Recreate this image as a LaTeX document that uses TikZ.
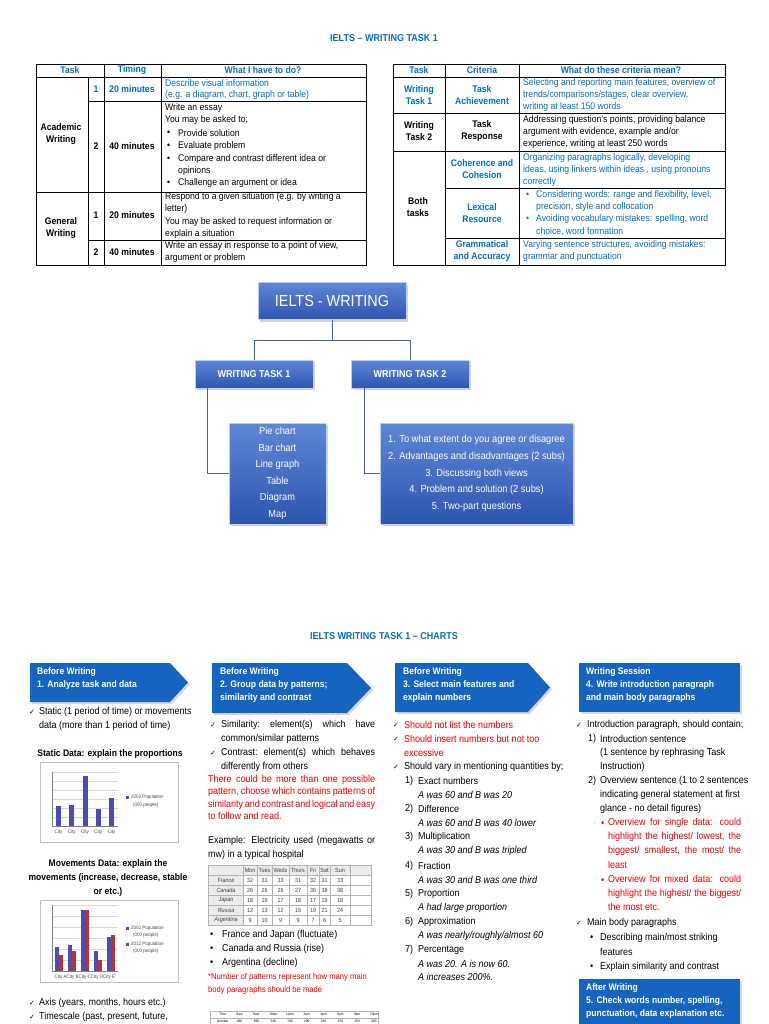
\documentclass[tikz,border=0pt]{standalone}
\usepackage{fontspec}
\setmainfont{Liberation Sans}[FakeStretch=0.9]
\newfontfamily\djv{DejaVu Sans}
\usetikzlibrary{shadows}
\definecolor{tb}{RGB}{0,112,192}
\definecolor{ab}{RGB}{21,101,192}
\definecolor{rd}{RGB}{240,0,0}
\definecolor{ln}{RGB}{70,100,160}
\hyphenpenalty=10000 \exhyphenpenalty=10000
\newcommand\ck{{\djv\fontsize{7}{7}\selectfont ✓}}
\newcommand\fs{\fontsize{9.6}{12.5}\selectfont}
\newcommand\fb{\fontsize{10}{14}\selectfont}
\tikzset{
 L/.style={anchor=west,inner sep=0,font=\fs},
 C/.style={anchor=center,inner sep=0,font=\fs\bfseries,align=center},
 B/.style={anchor=west,inner sep=0,font=\fb},
 dbox/.style={draw=white!70!ab,top color={rgb,255:red,95;green,135;blue,215},bottom color={rgb,255:red,45;green,85;blue,175},text=white,inner sep=0,drop shadow={opacity=0.35,shadow xshift=2pt,shadow yshift=-2pt}},
 conn/.style={draw=ln,line width=0.8pt},
 arr/.style={fill=ab,draw=none,drop shadow={opacity=0.3,shadow xshift=2pt,shadow yshift=-2pt}},
 hd/.style={anchor=north west,inner sep=0,text=white,font=\fontsize{9.5}{13}\selectfont\bfseries,align=left},
 tc/.style={font=\fontsize{5}{6}\selectfont,inner sep=0,text=black!70},
 jp/.style={anchor=north west,inner sep=0,align=justify},
}
\begin{document}
\begin{tikzpicture}[x=1pt,y=-1pt]
\useasboundingbox (0,0) rectangle (768,1024);
\fill[white] (0,0) rectangle (768,1024);
\node[font=\fontsize{10}{12}\selectfont\bfseries,text=tb] (title1) at (384,38) {IELTS -- WRITING TASK 1};

% ---------- table 1
\begin{scope}[line width=0.8pt]
\draw (36,64) rectangle (366,265);
\draw (36,77)--(366,77);
\draw (88,101)--(366,101); \draw (36,192)--(366,192); \draw (88,240)--(366,240);
\draw (88,77)--(88,265); \draw (104,64)--(104,265); \draw (161,64)--(161,265);
\end{scope}
\node[C,text=tb] (h1) at (70,70) {Task};
\node[C,text=tb] (h2) at (132,70) {Timing};
\node[C,text=tb] (h3) at (263,70) {What I have to do?};
\node[C] (aw) at (61,134) {Academic\\[-1pt]Writing};
\node[C] (gw) at (61,228) {General\\[-1pt]Writing};
\node[C,text=tb] at (96,89) {1}; \node[C,text=tb] at (132,89) {20 minutes};
\node[C] at (96,146) {2}; \node[C] at (132,146) {40 minutes};
\node[C] at (96,215) {1}; \node[C] at (132,215) {20 minutes};
\node[C] at (96,252) {2}; \node[C] at (132,252) {40 minutes};
\begin{scope}[every node/.style={L}]
\node[text=tb] at (165,83) {Describe visual information};
\node[text=tb] at (165,95) {(e.g. a diagram, chart, graph or table)};
\node at (165,108) {Write an essay};
\node at (165,120) {You may be asked to;};
\node at (167,133) {\textbullet}; \node at (178,133) {Provide solution};
\node at (167,146) {\textbullet}; \node at (178,146) {Evaluate problem};
\node at (167,159) {\textbullet}; \node at (178,159) {Compare and contrast different idea or};
\node at (178,171) {opinions};
\node at (167,183) {\textbullet}; \node at (178,183) {Challenge an argument or idea};
\node at (165,197) {Respond to a given situation (e.g. by writing a};
\node at (165,209) {letter)};
\node at (165,222) {You may be asked to request information or};
\node at (165,234) {explain a situation};
\node at (165,246) {Write an essay in response to a point of view,};
\node at (165,258) {argument or problem};
\end{scope}

% ---------- table 2
\begin{scope}[line width=0.8pt]
\draw (393,64) rectangle (725,265);
\foreach \yy in {77,113,151} \draw (393,\yy)--(725,\yy);
\draw (445,188)--(725,188); \draw (445,238)--(725,238);
\draw (445,64)--(445,265); \draw (519,64)--(519,265);
\end{scope}
\node[C,text=tb] (k1) at (419,70) {Task};
\node[C,text=tb] (k2) at (482,70) {Criteria};
\node[C,text=tb] (k3) at (621,70) {What do these criteria mean?};
\node[C,text=tb] at (419,95) {Writing\\[-1pt]Task 1};
\node[C,text=tb] at (482,95) {Task\\[-1pt]Achievement};
\node[C] at (419,131) {Writing\\[-1pt]Task 2};
\node[C] at (482,131) {Task\\[-1pt]Response};
\node[C,text=tb] at (482,169) {Coherence and\\[-1pt]Cohesion};
\node[C] at (418,207) {Both\\[-1pt]tasks};
\node[C,text=tb] at (482,213) {Lexical\\[-1pt]Resource};
\node[C,text=tb] at (482,251) {Grammatical\\[-1pt]and Accuracy};
\begin{scope}[every node/.style={L}]
\node[text=tb] at (523,83) {Selecting and reporting main features, overview of};
\node[text=tb] at (523,95) {trends/comparisons/stages, clear overview,};
\node[text=tb] at (523,107) {writing at least 150 words};
\node at (523,120) {Addressing question's points, providing balance};
\node at (523,132) {argument with evidence, example and/or};
\node at (523,144) {experience, writing at least 250 words};
\node[text=tb] at (523,158) {Organizing paragraphs logically, developing};
\node[text=tb] at (523,170) {ideas, using linkers within ideas , using pronouns};
\node[text=tb] at (523,182) {correctly};
\node[text=tb] at (526,195) {\textbullet}; \node[text=tb] at (536,195) {Considering words: range and flexibility, level,};
\node[text=tb] at (536,207) {precision, style and collocation};
\node[text=tb] at (526,219) {\textbullet}; \node[text=tb] at (536,219) {Avoiding vocabulary mistakes: spelling, word};
\node[text=tb] at (536,232) {choice, word formation};
\node[text=tb] at (523,245) {Varying sentence structures, avoiding mistakes:};
\node[text=tb] at (523,257) {grammar and punctuation};
\end{scope}

% ---------- diagram
\node[dbox,minimum width=148pt,minimum height=37pt,font=\fontsize{16}{18}\selectfont] (m) at (332,301) {IELTS - WRITING};
\node[dbox,minimum width=118pt,minimum height=28pt,font=\fontsize{10}{12}\selectfont\bfseries] (t1) at (254,374) {WRITING TASK 1};
\node[dbox,minimum width=118pt,minimum height=28pt,font=\fontsize{10}{12}\selectfont\bfseries] (t2) at (410,374) {WRITING TASK 2};
\node[dbox,minimum width=97pt,minimum height=101pt,align=center,font=\fontsize{10.3}{16.5}\selectfont] (p) at (277.5,473.5) {Pie chart\\Bar chart\\Line graph\\Table\\Diagram\\Map};
\node[dbox,minimum width=193pt,minimum height=101pt,align=center,font=\fontsize{10.3}{16.7}\selectfont] (q) at (476.5,473.5) {1. To what extent do you agree or disagree\\2. Advantages and disadvantages (2 subs)\\3. Discussing both views\\4. Problem and solution (2 subs)\\5. Two-part questions};
\coordinate (jn) at (332,340);
\draw[conn] (m.south) -- (jn);
\draw[conn] (jn) -| (t1.north);
\draw[conn] (jn) -| (t2.north);
\draw[conn] ([xshift=13pt]t1.south west) |- (p.west);
\draw[conn] ([xshift=14pt]t2.south west) |- (q.west);

% ---------- charts section
\node[font=\fontsize{10}{12}\selectfont\bfseries,text=tb] (title2) at (384,636) {IELTS WRITING TASK 1 -- CHARTS};

\fill[arr] (30,663) -- (170,663) -- (188,682.5) -- (170,702) -- (30,702) -- cycle;
\node[hd] (a1) at (37,667) {Before Writing\\1. Analyze task and data};
\fill[arr] (212,663) -- (347,663) -- (371,688) -- (347,713) -- (212,713) -- cycle;
\node[hd] (a2) at (220,667) {Before Writing\\2. Group data by patterns;\\similarity and contrast};
\fill[arr] (395,663) -- (528,663) -- (550,687.5) -- (528,712) -- (395,712) -- cycle;
\node[hd] (a3) at (403,667) {Before Writing\\3. Select main features and\\explain numbers};
\fill[arr] (579,663) rectangle (740,712);
\node[hd] (a4) at (586,667) {Writing Session\\4. Write introduction paragraph\\and main body paragraphs};
\fill[arr] (579,979) rectangle (740,1030);
\node[hd] (a5) at (586,983) {After Writing\\5. Check words number, spelling,\\punctuation, data explanation etc.};

% column 1
\begin{scope}[every node/.style={B}]
\node at (29,712) {\ck}; \node at (39,712) {Static (1 period of time) or movements};
\node at (39,726) {data (more than 1 period of time)};
\node at (29,1003) {\ck}; \node at (39,1003) {Axis (years, months, hours etc.)};
\node at (29,1017) {\ck}; \node at (39,1017) {Timescale (past, present, future,};
\end{scope}
\node[C,font=\fontsize{9.5}{14}\selectfont\bfseries] (sd) at (110,754) {Static Data: explain the proportions};
\node[C,font=\fontsize{9.5}{14}\selectfont\bfseries] (md) at (108,878) {Movements Data: explain the\\movements (increase, decrease, stable\\or etc.)};
% chart 1
\draw[black!25] (40,762) rectangle (178,842);
\foreach \i in {0,...,6} {\draw[black!15] (52,{826-\i*9}) -- (118,{826-\i*9});}
\draw[black!50] (52,772)--(52,826)--(118,826);
\foreach \h [count=\i] in {0.37,0.39,0.92,0.31,0.52} \fill[blue!60!black!70!white] ({52+(\i-0.5)*13.2-2.5},826) rectangle ++(5,{-54*\h});
\foreach \i in {1,...,5} \node[tc] at ({52+(\i-0.5)*13.2},832) {City};
\fill[blue!60!black!70!white] (126,796) rectangle ++(3,3);
\node[tc,anchor=west] at (131,797) {2002 Population};
\node[tc,anchor=west] at (133,805) {(000 people)};
% chart 2
\draw[black!25] (40,900) rectangle (178,982);
\foreach \i in {0,...,6} {\draw[black!15] (52,{971-\i*11}) -- (118,{971-\i*11});}
\draw[black!50] (52,905)--(52,971)--(118,971);
\foreach \h/\g [count=\i] in {0.37/0.25,0.39/0.3,0.92/0.92,0.31/0.17,0.52/0.55} {
 \fill[blue!60!black!70!white] ({52+(\i-0.5)*13.2-4},971) rectangle ++(4,{-66*\h});
 \fill[red!65!black!80!white] ({52+(\i-0.5)*13.2},971) rectangle ++(4,{-66*\g});}
\node[tc] at (85,977) {City ACity BCity CCity DCity E};
\fill[blue!60!black!70!white] (126,927) rectangle ++(3,3);
\node[tc,anchor=west] at (131,928) {2002 Population};
\node[tc,anchor=west] at (133,935) {(000 people)};
\fill[red!65!black!80!white] (126,943) rectangle ++(3,3);
\node[tc,anchor=west] at (131,944) {2012 Population};
\node[tc,anchor=west] at (133,951) {(000 people)};

% column 2
\begin{scope}[every node/.style={B}]
\node at (210,725) {\ck}; \node[text width=154pt,align=justify] at (221,725) {Similarity:\hfill element(s)\hfill which\hfill have};
\node at (221,739) {common/similar patterns};
\node at (210,753) {\ck}; \node[text width=154pt,align=justify] at (221,753) {Contrast:\hfill element(s)\hfill which\hfill behaves};
\node at (221,767) {differently from others};
\end{scope}
\node[jp,text width=167pt,text=rd,font=\fontsize{10}{12.3}\selectfont] (red2) at (208,775) {There could be more than one possible\linebreak pattern, choose which contains patterns of\linebreak similarity and contrast and logical and easy\linebreak to follow and read.};
\node[jp,text width=167pt,font=\fontsize{10}{14}\selectfont] (ex) at (208,836) {Example: Electricity used (megawatts or\linebreak mw) in a typical hospital};
% data table
\fill[black!8] (208,865) rectangle (371,875);
\fill[black!8] (208,875) rectangle (243,925);
\draw[black!30,line width=0.3pt] (208,865) rectangle (371,925);
\foreach \yy in {875,885,895,905,915} \draw[black!30,line width=0.3pt] (208,\yy)--(371,\yy);
\foreach \xx in {243,257,272,289,307,319,330,350} \draw[black!30,line width=0.3pt] (\xx,865)--(\xx,925);
\begin{scope}[every node/.style={font=\fontsize{6}{7}\selectfont,inner sep=0,text=black!75}]
\foreach \t/\xx in {Mon/250,Tues/264.5,Weds/280.5,Thurs/298,Fri/313,Sat/324.5,Sun/340} \node at (\xx,870) {\t};
\foreach \n [count=\r] in {France,Canada,Japan,Russia,Argentina} \node at (226,{870+\r*10}) {\itshape\n};
\foreach \a/\b/\c/\d/\e/\f/\g [count=\r] in {32/31/33/31/32/31/33,26/26/26/27/36/38/38,18/19/17/18/17/19/18,12/13/12/16/19/21/24,9/10/9/9/7/6/5} {
 \node at (250,{870+\r*10}) {\a}; \node at (264.5,{870+\r*10}) {\b}; \node at (280.5,{870+\r*10}) {\c};
 \node at (298,{870+\r*10}) {\d}; \node at (313,{870+\r*10}) {\e}; \node at (324.5,{870+\r*10}) {\f}; \node at (340,{870+\r*10}) {\g};}
\end{scope}
\begin{scope}[every node/.style={B}]
\node at (210,935) {\textbullet}; \node at (222,935) {France and Japan (fluctuate)};
\node at (210,949) {\textbullet}; \node at (222,949) {Canada and Russia (rise)};
\node at (210,963) {\textbullet}; \node at (222,963) {Argentina (decline)};
\node[text=rd,font=\fontsize{8.5}{12}\selectfont] at (208,977) {*Number of patterns represent how many main};
\node[text=rd,font=\fontsize{8.5}{12}\selectfont] at (208,990) {body paragraphs should be made};
\end{scope}
% small table
\draw[black!30,line width=0.3pt] (210,1011) rectangle (378,1026);
\draw[black!30,line width=0.3pt] (210,1018)--(378,1018);
\foreach \t/\n [count=\i] in {Time/Number,6am/480,8am/690,10am/540,12pm/780,2pm/290,4pm/230,6pm/670,8pm/450,10pm/300} {
 \node[font=\fontsize{3.5}{4}\selectfont,inner sep=0] at ({206+\i*16.8},1014.5) {\t};
 \node[font=\fontsize{3.5}{4}\selectfont,inner sep=0] at ({206+\i*16.8},1021.5) {\n};}

% column 3
\begin{scope}[every node/.style={B}]
\node at (393,725) {\ck}; \node[text=rd] at (404,725) {Should not list the numbers};
\node at (393,739) {\ck}; \node[text=rd] at (404,739) {Should insert numbers but not too};
\node[text=rd] at (404,753) {excessive};
\node at (393,767) {\ck}; \node at (404,767) {Should vary in mentioning quantities by;};
\foreach \n/\t/\e [count=\i] in {1)/Exact numbers/A was 60 and B was 20,2)/Difference/A was 60 and B was 40 lower,3)/Multiplication/A was 30 and B was tripled,4)/Fraction/A was 30 and B was one third,5)/Proportion/A had large proportion,6)/Approximation/{A was nearly/roughly/almost 60},7)/Percentage/A was 20. A is now 60.} {
 \node at (405,{781+(\i-1)*28.2}) {\n}; \node at (418,{781+(\i-1)*28.2}) {\t};
 \node at (418,{795+(\i-1)*28.2}) {\itshape\e};}
\node at (418,977) {\itshape A increases 200\%.};
\end{scope}

% column 4
\begin{scope}[every node/.style={B}]
\node at (576,725) {\ck}; \node at (587,725) {Introduction paragraph, should contain;};
\node at (588,739) {1)}; \node at (600,739) {Introduction sentence};
\node at (600,753) {(1 sentence by rephrasing Task};
\node at (600,767) {Instruction)};
\node at (588,781) {2)}; \node at (600,781) {Overview sentence (1 to 2 sentences};
\node at (600,795) {indicating general statement at first};
\node at (600,809) {glance - no detail figures)};
\node at (576,923) {\ck}; \node at (587,923) {Main body paragraphs};
\node at (590,938) {\textbullet}; \node at (600,938) {Describing main/most striking};
\node at (600,952) {features};
\node at (590,967) {\textbullet}; \node at (600,967) {Explain similarity and contrast};
\node[text=rd] at (601,824) {\textbullet};
\node[text=rd] at (601,881) {\textbullet};
\end{scope}
\node[jp,text width=133pt,text=rd,font=\fontsize{10}{14.2}\selectfont] (ov1) at (608,818) {Overview for single data: could\linebreak highlight the highest/ lowest, the\linebreak biggest/ smallest, the most/ the\linebreak least};
\node[jp,text width=133pt,text=rd,font=\fontsize{10}{14}\selectfont] (ov2) at (608,875) {Overview for mixed data: could\linebreak highlight the highest/ the biggest/\linebreak the most etc.};
\end{tikzpicture}
\end{document}
